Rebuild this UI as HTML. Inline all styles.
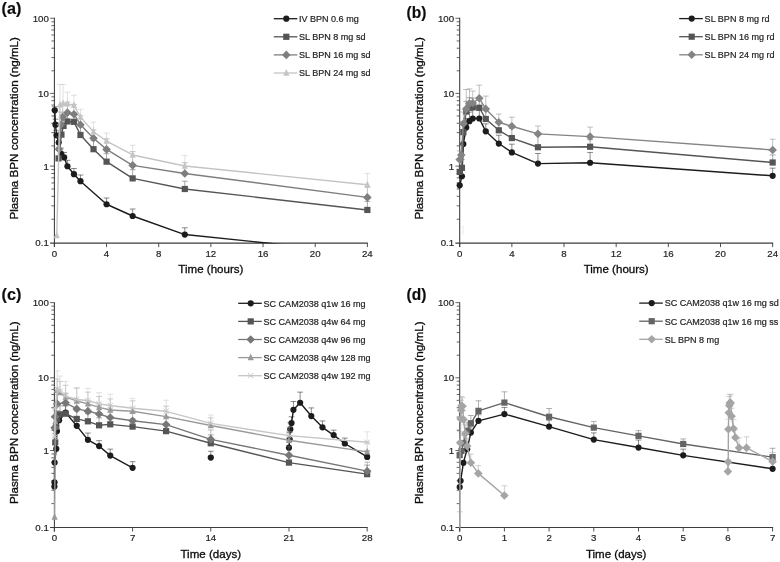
<!DOCTYPE html>
<html><head><meta charset="utf-8"><title>Plasma BPN concentration</title>
<style>
html,body{margin:0;padding:0;background:#fff}
svg{display:block;font-family:"Liberation Sans",Arial,Helvetica,sans-serif}
text{stroke:#222;stroke-width:0.2px}
text.t{stroke:#111;stroke-width:0.32px}
</style></head>
<body>
<svg width="780" height="562" viewBox="0 0 780 562">
<rect width="780" height="562" fill="#fff"/>
<g id="pa">
<text x="1.6" y="14.1" font-size="17" font-weight="bold" fill="#0c0c0c" textLength="19.8" lengthAdjust="spacingAndGlyphs">(a)</text>
<clipPath id="clippa"><rect x="48.4" y="8.25" width="326.96" height="235.15"/></clipPath>
<path d="M54.40 17.85V247.10M50.10 243.10H367.86" stroke="#3c3c3c" stroke-width="1.05" fill="none"/>
<path d="M51.40 219.22H54.40M51.40 205.84H54.40M51.40 196.34H54.40M51.40 188.98H54.40M51.40 182.96H54.40M51.40 177.87H54.40M51.40 173.47H54.40M51.40 169.58H54.40M50.10 166.10H54.40M51.40 145.86H54.40M51.40 132.64H54.40M51.40 123.27H54.40M51.40 115.99H54.40M51.40 110.05H54.40M51.40 105.03H54.40M51.40 100.67H54.40M51.40 96.83H54.40M50.10 93.40H54.40M51.40 70.81H54.40M51.40 57.59H54.40M51.40 48.22H54.40M51.40 40.94H54.40M51.40 35.00H54.40M51.40 29.98H54.40M51.40 25.62H54.40M51.40 21.78H54.40M50.10 18.25H54.40" stroke="#3c3c3c" stroke-width="0.8" fill="none"/>
<path d="M54.40 243.10V247.10M106.56 243.10V247.10M158.72 243.10V247.10M210.88 243.10V247.10M263.04 243.10V247.10M315.20 243.10V247.10M367.36 243.10V247.10" stroke="#3c3c3c" stroke-width="0.9" fill="none"/>
<text x="48.80" y="21.65" font-size="9.7" text-anchor="end" fill="#1f1f1f">100</text>
<text x="48.80" y="96.80" font-size="9.7" text-anchor="end" fill="#1f1f1f">10</text>
<text x="48.80" y="169.80" font-size="9.7" text-anchor="end" fill="#1f1f1f">1</text>
<text x="48.80" y="246.40" font-size="9.7" text-anchor="end" fill="#1f1f1f">0.1</text>
<text x="54.40" y="256.60" font-size="9.7" text-anchor="middle" fill="#1f1f1f">0</text>
<text x="106.56" y="256.60" font-size="9.7" text-anchor="middle" fill="#1f1f1f">4</text>
<text x="158.72" y="256.60" font-size="9.7" text-anchor="middle" fill="#1f1f1f">8</text>
<text x="210.88" y="256.60" font-size="9.7" text-anchor="middle" fill="#1f1f1f">12</text>
<text x="263.04" y="256.60" font-size="9.7" text-anchor="middle" fill="#1f1f1f">16</text>
<text x="315.20" y="256.60" font-size="9.7" text-anchor="middle" fill="#1f1f1f">20</text>
<text x="367.36" y="256.60" font-size="9.7" text-anchor="middle" fill="#1f1f1f">24</text>
<g clip-path="url(#clippa)">
<path d="M54.79 110.37V106.73M51.89 106.73H57.69" stroke="#1c1c1c" stroke-width="0.6" fill="none" opacity="0.85"/>
<path d="M55.48 124.70V119.19M52.58 119.19H58.38" stroke="#1c1c1c" stroke-width="0.6" fill="none" opacity="0.85"/>
<path d="M56.58 135.34V130.29M53.68 130.29H59.48" stroke="#1c1c1c" stroke-width="0.6" fill="none" opacity="0.85"/>
<path d="M58.70 142.49V137.05M55.80 137.05H61.60" stroke="#1c1c1c" stroke-width="0.6" fill="none" opacity="0.85"/>
<path d="M60.92 153.68V148.13M58.02 148.13H63.82" stroke="#1c1c1c" stroke-width="0.6" fill="none" opacity="0.85"/>
<path d="M64.18 157.43V152.45M61.28 152.45H67.08" stroke="#1c1c1c" stroke-width="0.6" fill="none" opacity="0.85"/>
<path d="M67.44 166.25V160.37M64.54 160.37H70.34" stroke="#1c1c1c" stroke-width="0.6" fill="none" opacity="0.85"/>
<path d="M73.96 174.22V168.48M71.06 168.48H76.86" stroke="#1c1c1c" stroke-width="0.6" fill="none" opacity="0.85"/>
<path d="M80.48 181.19V175.01M77.58 175.01H83.38" stroke="#1c1c1c" stroke-width="0.6" fill="none" opacity="0.85"/>
<path d="M106.56 204.24V197.98M103.66 197.98H109.46" stroke="#1c1c1c" stroke-width="0.6" fill="none" opacity="0.85"/>
<path d="M132.64 215.99V209.01M129.74 209.01H135.54" stroke="#1c1c1c" stroke-width="0.6" fill="none" opacity="0.85"/>
<path d="M184.80 234.56V227.80M181.90 227.80H187.70" stroke="#1c1c1c" stroke-width="0.6" fill="none" opacity="0.85"/>
<path d="M54.79 110.37L55.48 124.70L56.58 135.34L58.70 142.49L60.92 153.68L64.18 157.43L67.44 166.25L73.96 174.22L80.48 181.19L106.56 204.24L132.64 215.99L184.80 234.56L367.36 253.34" stroke="#1c1c1c" stroke-width="1.4" fill="none" stroke-linejoin="round"/>
<circle cx="54.79" cy="110.37" r="3.1" fill="#1c1c1c"/>
<circle cx="55.48" cy="124.70" r="3.1" fill="#1c1c1c"/>
<circle cx="56.58" cy="135.34" r="3.1" fill="#1c1c1c"/>
<circle cx="58.70" cy="142.49" r="3.1" fill="#1c1c1c"/>
<circle cx="60.92" cy="153.68" r="3.1" fill="#1c1c1c"/>
<circle cx="64.18" cy="157.43" r="3.1" fill="#1c1c1c"/>
<circle cx="67.44" cy="166.25" r="3.1" fill="#1c1c1c"/>
<circle cx="73.96" cy="174.22" r="3.1" fill="#1c1c1c"/>
<circle cx="80.48" cy="181.19" r="3.1" fill="#1c1c1c"/>
<circle cx="106.56" cy="204.24" r="3.1" fill="#1c1c1c"/>
<circle cx="132.64" cy="215.99" r="3.1" fill="#1c1c1c"/>
<circle cx="184.80" cy="234.56" r="3.1" fill="#1c1c1c"/>
<circle cx="367.36" cy="253.34" r="3.1" fill="#1c1c1c"/>
<path d="M58.57 158.38V147.26M55.67 147.26H61.47" stroke="#555555" stroke-width="0.6" fill="none" opacity="0.85"/>
<path d="M61.44 134.64V123.85M58.54 123.85H64.34" stroke="#555555" stroke-width="0.6" fill="none" opacity="0.85"/>
<path d="M63.53 125.92V115.76M60.63 115.76H66.43" stroke="#555555" stroke-width="0.6" fill="none" opacity="0.85"/>
<path d="M67.44 121.44V112.07M64.54 112.07H70.34" stroke="#555555" stroke-width="0.6" fill="none" opacity="0.85"/>
<path d="M73.96 121.83V113.26M71.06 113.26H76.86" stroke="#555555" stroke-width="0.6" fill="none" opacity="0.85"/>
<path d="M80.48 134.99V126.46M77.58 126.46H83.38" stroke="#555555" stroke-width="0.6" fill="none" opacity="0.85"/>
<path d="M93.52 149.20V140.34M90.62 140.34H96.42" stroke="#555555" stroke-width="0.6" fill="none" opacity="0.85"/>
<path d="M106.56 161.68V153.68M103.66 153.68H109.46" stroke="#555555" stroke-width="0.6" fill="none" opacity="0.85"/>
<path d="M132.64 178.39V169.65M129.74 169.65H135.54" stroke="#555555" stroke-width="0.6" fill="none" opacity="0.85"/>
<path d="M184.80 189.00V181.19M181.90 181.19H187.70" stroke="#555555" stroke-width="0.6" fill="none" opacity="0.85"/>
<path d="M367.36 209.94V201.41M364.46 201.41H370.26" stroke="#555555" stroke-width="0.6" fill="none" opacity="0.85"/>
<path d="M58.57 158.38L61.44 134.64L63.53 125.92L67.44 121.44L73.96 121.83L80.48 134.99L93.52 149.20L106.56 161.68L132.64 178.39L184.80 189.00L367.36 209.94" stroke="#555555" stroke-width="1.4" fill="none" stroke-linejoin="round"/>
<rect x="55.47" y="155.28" width="6.2" height="6.2" fill="#555555"/>
<rect x="58.34" y="131.54" width="6.2" height="6.2" fill="#555555"/>
<rect x="60.43" y="122.82" width="6.2" height="6.2" fill="#555555"/>
<rect x="64.34" y="118.34" width="6.2" height="6.2" fill="#555555"/>
<rect x="70.86" y="118.73" width="6.2" height="6.2" fill="#555555"/>
<rect x="77.38" y="131.89" width="6.2" height="6.2" fill="#555555"/>
<rect x="90.42" y="146.10" width="6.2" height="6.2" fill="#555555"/>
<rect x="103.46" y="158.58" width="6.2" height="6.2" fill="#555555"/>
<rect x="129.54" y="175.29" width="6.2" height="6.2" fill="#555555"/>
<rect x="181.70" y="185.90" width="6.2" height="6.2" fill="#555555"/>
<rect x="364.26" y="206.84" width="6.2" height="6.2" fill="#555555"/>
<path d="M58.96 149.20V137.05M56.06 137.05H61.86" stroke="#7e7e7e" stroke-width="0.6" fill="none" opacity="0.85"/>
<path d="M60.92 124.70V112.07M58.02 112.07H63.82" stroke="#7e7e7e" stroke-width="0.6" fill="none" opacity="0.85"/>
<path d="M62.75 117.09V104.81M59.85 104.81H65.65" stroke="#7e7e7e" stroke-width="0.6" fill="none" opacity="0.85"/>
<path d="M67.44 112.66V102.13M64.54 102.13H70.34" stroke="#7e7e7e" stroke-width="0.6" fill="none" opacity="0.85"/>
<path d="M73.96 114.24V104.35M71.06 104.35H76.86" stroke="#7e7e7e" stroke-width="0.6" fill="none" opacity="0.85"/>
<path d="M80.48 124.70V115.76M77.58 115.76H83.38" stroke="#7e7e7e" stroke-width="0.6" fill="none" opacity="0.85"/>
<path d="M93.52 138.32V129.78M90.62 129.78H96.42" stroke="#7e7e7e" stroke-width="0.6" fill="none" opacity="0.85"/>
<path d="M106.56 149.38V138.85M103.66 138.85H109.46" stroke="#7e7e7e" stroke-width="0.6" fill="none" opacity="0.85"/>
<path d="M132.64 165.34V151.65M129.74 151.65H135.54" stroke="#7e7e7e" stroke-width="0.6" fill="none" opacity="0.85"/>
<path d="M184.80 173.44V162.76M181.90 162.76H187.70" stroke="#7e7e7e" stroke-width="0.6" fill="none" opacity="0.85"/>
<path d="M367.36 197.41V187.02M364.46 187.02H370.26" stroke="#7e7e7e" stroke-width="0.6" fill="none" opacity="0.85"/>
<path d="M58.96 149.20L60.92 124.70L62.75 117.09L67.44 112.66L73.96 114.24L80.48 124.70L93.52 138.32L106.56 149.38L132.64 165.34L184.80 173.44L367.36 197.41" stroke="#7e7e7e" stroke-width="1.4" fill="none" stroke-linejoin="round"/>
<path d="M58.96 144.90L63.26 149.20L58.96 153.50L54.66 149.20Z" fill="#7e7e7e"/>
<path d="M60.92 120.40L65.22 124.70L60.92 129.00L56.62 124.70Z" fill="#7e7e7e"/>
<path d="M62.75 112.79L67.05 117.09L62.75 121.39L58.45 117.09Z" fill="#7e7e7e"/>
<path d="M67.44 108.36L71.74 112.66L67.44 116.96L63.14 112.66Z" fill="#7e7e7e"/>
<path d="M73.96 109.94L78.26 114.24L73.96 118.54L69.66 114.24Z" fill="#7e7e7e"/>
<path d="M80.48 120.40L84.78 124.70L80.48 129.00L76.18 124.70Z" fill="#7e7e7e"/>
<path d="M93.52 134.02L97.82 138.32L93.52 142.62L89.22 138.32Z" fill="#7e7e7e"/>
<path d="M106.56 145.08L110.86 149.38L106.56 153.68L102.26 149.38Z" fill="#7e7e7e"/>
<path d="M132.64 161.04L136.94 165.34L132.64 169.64L128.34 165.34Z" fill="#7e7e7e"/>
<path d="M184.80 169.14L189.10 173.44L184.80 177.74L180.50 173.44Z" fill="#7e7e7e"/>
<path d="M367.36 193.11L371.66 197.41L367.36 201.71L363.06 197.41Z" fill="#7e7e7e"/>
<path d="M60.01 104.81V84.41M57.11 84.41H62.91" stroke="#c4c4c4" stroke-width="0.6" fill="none" opacity="0.85"/>
<path d="M63.01 103.44V84.41M60.11 84.41H65.91" stroke="#c4c4c4" stroke-width="0.6" fill="none" opacity="0.85"/>
<path d="M67.44 103.89V92.24M64.54 92.24H70.34" stroke="#c4c4c4" stroke-width="0.6" fill="none" opacity="0.85"/>
<path d="M73.96 105.28V95.21M71.06 95.21H76.86" stroke="#c4c4c4" stroke-width="0.6" fill="none" opacity="0.85"/>
<path d="M80.48 117.09V109.29M77.58 109.29H83.38" stroke="#c4c4c4" stroke-width="0.6" fill="none" opacity="0.85"/>
<path d="M93.52 131.85V122.22M90.62 122.22H96.42" stroke="#c4c4c4" stroke-width="0.6" fill="none" opacity="0.85"/>
<path d="M106.56 141.04V133.05M103.66 133.05H109.46" stroke="#c4c4c4" stroke-width="0.6" fill="none" opacity="0.85"/>
<path d="M132.64 154.95V145.26M129.74 145.26H135.54" stroke="#c4c4c4" stroke-width="0.6" fill="none" opacity="0.85"/>
<path d="M184.80 165.95V155.61M181.90 155.61H187.70" stroke="#c4c4c4" stroke-width="0.6" fill="none" opacity="0.85"/>
<path d="M367.36 184.78V173.44M364.46 173.44H370.26" stroke="#c4c4c4" stroke-width="0.6" fill="none" opacity="0.85"/>
<path d="M56.75 235.58L60.01 104.81L63.01 103.44L67.44 103.89L73.96 105.28L80.48 117.09L93.52 131.85L106.56 141.04L132.64 154.95L184.80 165.95L367.36 184.78" stroke="#c4c4c4" stroke-width="1.4" fill="none" stroke-linejoin="round"/>
<path d="M56.75 231.58L59.85 238.28L53.65 238.28Z" fill="#c4c4c4"/>
<path d="M60.01 100.81L63.11 107.51L56.91 107.51Z" fill="#c4c4c4"/>
<path d="M63.01 99.44L66.11 106.14L59.91 106.14Z" fill="#c4c4c4"/>
<path d="M67.44 99.89L70.54 106.59L64.34 106.59Z" fill="#c4c4c4"/>
<path d="M73.96 101.28L77.06 107.98L70.86 107.98Z" fill="#c4c4c4"/>
<path d="M80.48 113.09L83.58 119.79L77.38 119.79Z" fill="#c4c4c4"/>
<path d="M93.52 127.85L96.62 134.55L90.42 134.55Z" fill="#c4c4c4"/>
<path d="M106.56 137.04L109.66 143.74L103.46 143.74Z" fill="#c4c4c4"/>
<path d="M132.64 150.95L135.74 157.65L129.54 157.65Z" fill="#c4c4c4"/>
<path d="M184.80 161.95L187.90 168.65L181.70 168.65Z" fill="#c4c4c4"/>
<path d="M367.36 180.78L370.46 187.48L364.26 187.48Z" fill="#c4c4c4"/>
</g>

<text x="210.88" y="273.20" font-size="11.55" text-anchor="middle" fill="#0a0a0a" class="t">Time (hours)</text>
<text transform="translate(17.60 128.28) rotate(-90)" font-size="11.65" text-anchor="middle" fill="#0a0a0a" class="t">Plasma BPN concentration (ng/mL)</text>
<path d="M273.80 18.70H297.40" stroke="#1c1c1c" stroke-width="1.3"/>
<circle cx="286.30" cy="18.70" r="3.1" fill="#1c1c1c"/>
<text x="298.90" y="22.00" font-size="9.05" fill="#1f1f1f">IV BPN 0.6 mg</text>
<path d="M273.80 36.80H297.40" stroke="#555555" stroke-width="1.3"/>
<rect x="283.20" y="33.70" width="6.2" height="6.2" fill="#555555"/>
<text x="298.90" y="40.10" font-size="9.05" fill="#1f1f1f">SL BPN 8 mg sd</text>
<path d="M273.80 54.90H297.40" stroke="#7e7e7e" stroke-width="1.3"/>
<path d="M286.30 50.60L290.60 54.90L286.30 59.20L282.00 54.90Z" fill="#7e7e7e"/>
<text x="298.90" y="58.20" font-size="9.05" fill="#1f1f1f">SL BPN 16 mg sd</text>
<path d="M273.80 73.00H297.40" stroke="#c4c4c4" stroke-width="1.3"/>
<path d="M286.30 69.00L289.40 75.70L283.20 75.70Z" fill="#c4c4c4"/>
<text x="298.90" y="76.30" font-size="9.05" fill="#1f1f1f">SL BPN 24 mg sd</text>
</g>
<g id="pb">
<text x="406.6" y="17.6" font-size="17" font-weight="bold" fill="#0c0c0c" textLength="19.8" lengthAdjust="spacingAndGlyphs">(b)</text>
<clipPath id="clippb"><rect x="453.7" y="8.25" width="326.96" height="235.15"/></clipPath>
<path d="M459.70 17.85V247.10M455.40 243.10H773.16" stroke="#3c3c3c" stroke-width="1.05" fill="none"/>
<path d="M456.70 219.22H459.70M456.70 205.84H459.70M456.70 196.34H459.70M456.70 188.98H459.70M456.70 182.96H459.70M456.70 177.87H459.70M456.70 173.47H459.70M456.70 169.58H459.70M455.40 166.10H459.70M456.70 145.86H459.70M456.70 132.64H459.70M456.70 123.27H459.70M456.70 115.99H459.70M456.70 110.05H459.70M456.70 105.03H459.70M456.70 100.67H459.70M456.70 96.83H459.70M455.40 93.40H459.70M456.70 70.81H459.70M456.70 57.59H459.70M456.70 48.22H459.70M456.70 40.94H459.70M456.70 35.00H459.70M456.70 29.98H459.70M456.70 25.62H459.70M456.70 21.78H459.70M455.40 18.25H459.70" stroke="#3c3c3c" stroke-width="0.8" fill="none"/>
<path d="M459.70 243.10V247.10M511.86 243.10V247.10M564.02 243.10V247.10M616.18 243.10V247.10M668.34 243.10V247.10M720.50 243.10V247.10M772.66 243.10V247.10" stroke="#3c3c3c" stroke-width="0.9" fill="none"/>
<text x="454.10" y="21.65" font-size="9.7" text-anchor="end" fill="#1f1f1f">100</text>
<text x="454.10" y="96.80" font-size="9.7" text-anchor="end" fill="#1f1f1f">10</text>
<text x="454.10" y="169.80" font-size="9.7" text-anchor="end" fill="#1f1f1f">1</text>
<text x="454.10" y="246.40" font-size="9.7" text-anchor="end" fill="#1f1f1f">0.1</text>
<text x="459.70" y="256.60" font-size="9.7" text-anchor="middle" fill="#1f1f1f">0</text>
<text x="511.86" y="256.60" font-size="9.7" text-anchor="middle" fill="#1f1f1f">4</text>
<text x="564.02" y="256.60" font-size="9.7" text-anchor="middle" fill="#1f1f1f">8</text>
<text x="616.18" y="256.60" font-size="9.7" text-anchor="middle" fill="#1f1f1f">12</text>
<text x="668.34" y="256.60" font-size="9.7" text-anchor="middle" fill="#1f1f1f">16</text>
<text x="720.50" y="256.60" font-size="9.7" text-anchor="middle" fill="#1f1f1f">20</text>
<text x="772.66" y="256.60" font-size="9.7" text-anchor="middle" fill="#1f1f1f">24</text>
<g clip-path="url(#clippb)">
<path d="M463.35 144.00V134.64M460.45 134.64H466.25" stroke="#1c1c1c" stroke-width="0.6" fill="none" opacity="0.85"/>
<path d="M466.22 127.56V118.48M463.32 118.48H469.12" stroke="#1c1c1c" stroke-width="0.6" fill="none" opacity="0.85"/>
<path d="M469.48 121.13V112.07M466.58 112.07H472.38" stroke="#1c1c1c" stroke-width="0.6" fill="none" opacity="0.85"/>
<path d="M472.74 118.48V109.83M469.84 109.83H475.64" stroke="#1c1c1c" stroke-width="0.6" fill="none" opacity="0.85"/>
<path d="M479.26 118.48V110.37M476.36 110.37H482.16" stroke="#1c1c1c" stroke-width="0.6" fill="none" opacity="0.85"/>
<path d="M485.78 131.32V123.85M482.88 123.85H488.68" stroke="#1c1c1c" stroke-width="0.6" fill="none" opacity="0.85"/>
<path d="M498.82 143.54V135.22M495.92 135.22H501.72" stroke="#1c1c1c" stroke-width="0.6" fill="none" opacity="0.85"/>
<path d="M511.86 152.45V144.16M508.96 144.16H514.76" stroke="#1c1c1c" stroke-width="0.6" fill="none" opacity="0.85"/>
<path d="M537.94 163.60V153.47M535.04 153.47H540.84" stroke="#1c1c1c" stroke-width="0.6" fill="none" opacity="0.85"/>
<path d="M590.10 162.76V152.45M587.20 152.45H593.00" stroke="#1c1c1c" stroke-width="0.6" fill="none" opacity="0.85"/>
<path d="M772.66 175.82V168.15M769.76 168.15H775.56" stroke="#1c1c1c" stroke-width="0.6" fill="none" opacity="0.85"/>
<path d="M459.70 185.32L461.92 176.24L463.35 144.00L466.22 127.56L469.48 121.13L472.74 118.48L479.26 118.48L485.78 131.32L498.82 143.54L511.86 152.45L537.94 163.60L590.10 162.76L772.66 175.82" stroke="#1c1c1c" stroke-width="1.4" fill="none" stroke-linejoin="round"/>
<circle cx="459.70" cy="185.32" r="3.1" fill="#1c1c1c"/>
<circle cx="461.92" cy="176.24" r="3.1" fill="#1c1c1c"/>
<circle cx="463.35" cy="144.00" r="3.1" fill="#1c1c1c"/>
<circle cx="466.22" cy="127.56" r="3.1" fill="#1c1c1c"/>
<circle cx="469.48" cy="121.13" r="3.1" fill="#1c1c1c"/>
<circle cx="472.74" cy="118.48" r="3.1" fill="#1c1c1c"/>
<circle cx="479.26" cy="118.48" r="3.1" fill="#1c1c1c"/>
<circle cx="485.78" cy="131.32" r="3.1" fill="#1c1c1c"/>
<circle cx="498.82" cy="143.54" r="3.1" fill="#1c1c1c"/>
<circle cx="511.86" cy="152.45" r="3.1" fill="#1c1c1c"/>
<circle cx="537.94" cy="163.60" r="3.1" fill="#1c1c1c"/>
<circle cx="590.10" cy="162.76" r="3.1" fill="#1c1c1c"/>
<circle cx="772.66" cy="175.82" r="3.1" fill="#1c1c1c"/>
<path d="M461.92 167.83V159.61M459.02 159.61H464.82" stroke="#555555" stroke-width="0.6" fill="none" opacity="0.85"/>
<path d="M463.35 132.07V121.44M460.45 121.44H466.25" stroke="#555555" stroke-width="0.6" fill="none" opacity="0.85"/>
<path d="M466.22 111.50V101.29M463.32 101.29H469.12" stroke="#555555" stroke-width="0.6" fill="none" opacity="0.85"/>
<path d="M469.48 107.73V97.73M466.58 97.73H472.38" stroke="#555555" stroke-width="0.6" fill="none" opacity="0.85"/>
<path d="M472.74 107.22V98.11M469.84 98.11H475.64" stroke="#555555" stroke-width="0.6" fill="none" opacity="0.85"/>
<path d="M479.26 107.73V99.27M476.36 99.27H482.16" stroke="#555555" stroke-width="0.6" fill="none" opacity="0.85"/>
<path d="M485.78 118.98V110.37M482.88 110.37H488.68" stroke="#555555" stroke-width="0.6" fill="none" opacity="0.85"/>
<path d="M498.82 130.29V123.03M495.92 123.03H501.72" stroke="#555555" stroke-width="0.6" fill="none" opacity="0.85"/>
<path d="M511.86 138.07V128.32M508.96 128.32H514.76" stroke="#555555" stroke-width="0.6" fill="none" opacity="0.85"/>
<path d="M537.94 147.26V135.22M535.04 135.22H540.84" stroke="#555555" stroke-width="0.6" fill="none" opacity="0.85"/>
<path d="M590.10 146.75V139.65M587.20 139.65H593.00" stroke="#555555" stroke-width="0.6" fill="none" opacity="0.85"/>
<path d="M772.66 162.49V154.95M769.76 154.95H775.56" stroke="#555555" stroke-width="0.6" fill="none" opacity="0.85"/>
<path d="M459.70 171.94L461.92 167.83L463.35 132.07L466.22 111.50L469.48 107.73L472.74 107.22L479.26 107.73L485.78 118.98L498.82 130.29L511.86 138.07L537.94 147.26L590.10 146.75L772.66 162.49" stroke="#555555" stroke-width="1.4" fill="none" stroke-linejoin="round"/>
<rect x="456.60" y="168.84" width="6.2" height="6.2" fill="#555555"/>
<rect x="458.82" y="164.73" width="6.2" height="6.2" fill="#555555"/>
<rect x="460.25" y="128.97" width="6.2" height="6.2" fill="#555555"/>
<rect x="463.12" y="108.40" width="6.2" height="6.2" fill="#555555"/>
<rect x="466.38" y="104.63" width="6.2" height="6.2" fill="#555555"/>
<rect x="469.64" y="104.12" width="6.2" height="6.2" fill="#555555"/>
<rect x="476.16" y="104.63" width="6.2" height="6.2" fill="#555555"/>
<rect x="482.68" y="115.88" width="6.2" height="6.2" fill="#555555"/>
<rect x="495.72" y="127.19" width="6.2" height="6.2" fill="#555555"/>
<rect x="508.76" y="134.97" width="6.2" height="6.2" fill="#555555"/>
<rect x="534.84" y="144.16" width="6.2" height="6.2" fill="#555555"/>
<rect x="587.00" y="143.65" width="6.2" height="6.2" fill="#555555"/>
<rect x="769.56" y="159.39" width="6.2" height="6.2" fill="#555555"/>
<path d="M459.70 159.61V150.88M456.80 150.88H462.60" stroke="#848484" stroke-width="0.6" fill="none" opacity="0.85"/>
<path d="M461.26 154.95V145.59M458.36 145.59H464.16" stroke="#848484" stroke-width="0.6" fill="none" opacity="0.85"/>
<path d="M463.35 123.68V112.07M460.45 112.07H466.25" stroke="#848484" stroke-width="0.6" fill="none" opacity="0.85"/>
<path d="M466.22 108.92V89.51M463.32 89.51H469.12" stroke="#848484" stroke-width="0.6" fill="none" opacity="0.85"/>
<path d="M469.48 103.44V88.93M466.58 88.93H472.38" stroke="#848484" stroke-width="0.6" fill="none" opacity="0.85"/>
<path d="M472.74 103.00V91.00M469.84 91.00H475.64" stroke="#848484" stroke-width="0.6" fill="none" opacity="0.85"/>
<path d="M479.26 98.30V85.16M476.36 85.16H482.16" stroke="#848484" stroke-width="0.6" fill="none" opacity="0.85"/>
<path d="M485.78 108.92V96.09M482.88 96.09H488.68" stroke="#848484" stroke-width="0.6" fill="none" opacity="0.85"/>
<path d="M498.82 122.22V114.05M495.92 114.05H501.72" stroke="#848484" stroke-width="0.6" fill="none" opacity="0.85"/>
<path d="M511.86 126.27V117.23M508.96 117.23H514.76" stroke="#848484" stroke-width="0.6" fill="none" opacity="0.85"/>
<path d="M537.94 133.83V126.01M535.04 126.01H540.84" stroke="#848484" stroke-width="0.6" fill="none" opacity="0.85"/>
<path d="M590.10 136.67V127.09M587.20 127.09H593.00" stroke="#848484" stroke-width="0.6" fill="none" opacity="0.85"/>
<path d="M772.66 149.93V139.25M769.76 139.25H775.56" stroke="#848484" stroke-width="0.6" fill="none" opacity="0.85"/>
<path d="M459.70 159.61L461.26 154.95L463.35 123.68L466.22 108.92L469.48 103.44L472.74 103.00L479.26 98.30L485.78 108.92L498.82 122.22L511.86 126.27L537.94 133.83L590.10 136.67L772.66 149.93" stroke="#848484" stroke-width="1.4" fill="none" stroke-linejoin="round"/>
<path d="M459.70 155.31L464.00 159.61L459.70 163.91L455.40 159.61Z" fill="#848484"/>
<path d="M461.26 150.65L465.56 154.95L461.26 159.25L456.96 154.95Z" fill="#848484"/>
<path d="M463.35 119.38L467.65 123.68L463.35 127.98L459.05 123.68Z" fill="#848484"/>
<path d="M466.22 104.62L470.52 108.92L466.22 113.22L461.92 108.92Z" fill="#848484"/>
<path d="M469.48 99.14L473.78 103.44L469.48 107.74L465.18 103.44Z" fill="#848484"/>
<path d="M472.74 98.70L477.04 103.00L472.74 107.30L468.44 103.00Z" fill="#848484"/>
<path d="M479.26 94.00L483.56 98.30L479.26 102.60L474.96 98.30Z" fill="#848484"/>
<path d="M485.78 104.62L490.08 108.92L485.78 113.22L481.48 108.92Z" fill="#848484"/>
<path d="M498.82 117.92L503.12 122.22L498.82 126.52L494.52 122.22Z" fill="#848484"/>
<path d="M511.86 121.97L516.16 126.27L511.86 130.57L507.56 126.27Z" fill="#848484"/>
<path d="M537.94 129.53L542.24 133.83L537.94 138.13L533.64 133.83Z" fill="#848484"/>
<path d="M590.10 132.37L594.40 136.67L590.10 140.97L585.80 136.67Z" fill="#848484"/>
<path d="M772.66 145.63L776.96 149.93L772.66 154.23L768.36 149.93Z" fill="#848484"/>
</g>
<path d="M463 225V235" stroke="#e4e4e4" stroke-width="0.8"/>
<text x="616.18" y="273.20" font-size="11.55" text-anchor="middle" fill="#0a0a0a" class="t">Time (hours)</text>
<text transform="translate(423.20 128.28) rotate(-90)" font-size="11.65" text-anchor="middle" fill="#0a0a0a" class="t">Plasma BPN concentration (ng/mL)</text>
<path d="M679.20 18.60H702.80" stroke="#1c1c1c" stroke-width="1.3"/>
<circle cx="691.70" cy="18.60" r="3.1" fill="#1c1c1c"/>
<text x="704.60" y="21.90" font-size="9.05" fill="#1f1f1f">SL BPN 8 mg rd</text>
<path d="M679.20 36.70H702.80" stroke="#555555" stroke-width="1.3"/>
<rect x="688.60" y="33.60" width="6.2" height="6.2" fill="#555555"/>
<text x="704.60" y="40.00" font-size="9.05" fill="#1f1f1f">SL BPN 16 mg rd</text>
<path d="M679.20 54.80H702.80" stroke="#848484" stroke-width="1.3"/>
<path d="M691.70 50.50L696.00 54.80L691.70 59.10L687.40 54.80Z" fill="#848484"/>
<text x="704.60" y="58.10" font-size="9.05" fill="#1f1f1f">SL BPN 24 mg rd</text>
</g>
<g id="pc">
<text x="1.6" y="300.2" font-size="17" font-weight="bold" fill="#0c0c0c" textLength="19.8" lengthAdjust="spacingAndGlyphs">(c)</text>
<clipPath id="clippc"><rect x="48.4" y="292.65" width="326.76" height="235.15000000000003"/></clipPath>
<path d="M54.40 302.25V531.50M50.10 527.50H367.66" stroke="#3c3c3c" stroke-width="1.05" fill="none"/>
<path d="M51.40 503.62H54.40M51.40 490.24H54.40M51.40 480.74H54.40M51.40 473.38H54.40M51.40 467.36H54.40M51.40 462.27H54.40M51.40 457.87H54.40M51.40 453.98H54.40M50.10 450.50H54.40M51.40 430.26H54.40M51.40 417.04H54.40M51.40 407.67H54.40M51.40 400.39H54.40M51.40 394.45H54.40M51.40 389.43H54.40M51.40 385.07H54.40M51.40 381.23H54.40M50.10 377.80H54.40M51.40 355.21H54.40M51.40 341.99H54.40M51.40 332.62H54.40M51.40 325.34H54.40M51.40 319.40H54.40M51.40 314.38H54.40M51.40 310.02H54.40M51.40 306.18H54.40M50.10 302.65H54.40" stroke="#3c3c3c" stroke-width="0.8" fill="none"/>
<path d="M54.40 527.50V531.50M132.59 527.50V531.50M210.78 527.50V531.50M288.97 527.50V531.50M367.16 527.50V531.50" stroke="#3c3c3c" stroke-width="0.9" fill="none"/>
<text x="48.80" y="306.05" font-size="9.7" text-anchor="end" fill="#1f1f1f">100</text>
<text x="48.80" y="381.20" font-size="9.7" text-anchor="end" fill="#1f1f1f">10</text>
<text x="48.80" y="454.20" font-size="9.7" text-anchor="end" fill="#1f1f1f">1</text>
<text x="48.80" y="530.80" font-size="9.7" text-anchor="end" fill="#1f1f1f">0.1</text>
<text x="54.40" y="541.00" font-size="9.7" text-anchor="middle" fill="#1f1f1f">0</text>
<text x="132.59" y="541.00" font-size="9.7" text-anchor="middle" fill="#1f1f1f">7</text>
<text x="210.78" y="541.00" font-size="9.7" text-anchor="middle" fill="#1f1f1f">14</text>
<text x="288.97" y="541.00" font-size="9.7" text-anchor="middle" fill="#1f1f1f">21</text>
<text x="367.16" y="541.00" font-size="9.7" text-anchor="middle" fill="#1f1f1f">28</text>
<g clip-path="url(#clippc)">
<path d="M59.09 420.22V413.69M56.19 413.69H61.99" stroke="#1c1c1c" stroke-width="0.6" fill="none" opacity="0.85"/>
<path d="M65.57 412.52V405.84M62.67 405.84H68.47" stroke="#1c1c1c" stroke-width="0.6" fill="none" opacity="0.85"/>
<path d="M76.74 425.87V419.62M73.84 419.62H79.64" stroke="#1c1c1c" stroke-width="0.6" fill="none" opacity="0.85"/>
<path d="M87.91 439.79V433.06M85.01 433.06H90.81" stroke="#1c1c1c" stroke-width="0.6" fill="none" opacity="0.85"/>
<path d="M99.08 446.08V440.68M96.18 440.68H101.98" stroke="#1c1c1c" stroke-width="0.6" fill="none" opacity="0.85"/>
<path d="M110.25 455.62V449.15M107.35 449.15H113.15" stroke="#1c1c1c" stroke-width="0.6" fill="none" opacity="0.85"/>
<path d="M132.59 467.80V461.70M129.69 461.70H135.49" stroke="#1c1c1c" stroke-width="0.6" fill="none" opacity="0.85"/>
<path d="M210.78 457.57V451.27M207.88 451.27H213.68" stroke="#1c1c1c" stroke-width="0.6" fill="none" opacity="0.85"/>
<path d="M289.64 439.35V432.53M286.74 432.53H292.54" stroke="#1c1c1c" stroke-width="0.6" fill="none" opacity="0.85"/>
<path d="M290.31 429.18V422.72M287.41 422.72H293.21" stroke="#1c1c1c" stroke-width="0.6" fill="none" opacity="0.85"/>
<path d="M291.54 422.99V416.79M288.64 416.79H294.44" stroke="#1c1c1c" stroke-width="0.6" fill="none" opacity="0.85"/>
<path d="M293.44 409.79V401.49M290.54 401.49H296.34" stroke="#1c1c1c" stroke-width="0.6" fill="none" opacity="0.85"/>
<path d="M300.14 402.74V392.13M297.24 392.13H303.04" stroke="#1c1c1c" stroke-width="0.6" fill="none" opacity="0.85"/>
<path d="M311.31 416.04V407.92M308.41 407.92H314.21" stroke="#1c1c1c" stroke-width="0.6" fill="none" opacity="0.85"/>
<path d="M322.48 427.33V420.95M319.58 420.95H325.38" stroke="#1c1c1c" stroke-width="0.6" fill="none" opacity="0.85"/>
<path d="M333.65 435.09V430.15M330.75 430.15H336.55" stroke="#1c1c1c" stroke-width="0.6" fill="none" opacity="0.85"/>
<path d="M344.82 443.51V438.08M341.92 438.08H347.72" stroke="#1c1c1c" stroke-width="0.6" fill="none" opacity="0.85"/>
<path d="M367.16 456.90V450.96M364.26 450.96H370.06" stroke="#1c1c1c" stroke-width="0.6" fill="none" opacity="0.85"/>
<path d="M54.40 486.54L54.51 482.38L54.62 462.57L56.30 448.86L56.86 431.15L59.09 420.22L65.57 412.52L76.74 425.87L87.91 439.79L99.08 446.08L110.25 455.62L132.59 467.80" stroke="#1c1c1c" stroke-width="1.4" fill="none" stroke-linejoin="round"/>
<path d="M288.97 447.72L289.64 439.35L290.31 429.18L291.54 422.99L293.44 409.79L300.14 402.74L311.31 416.04L322.48 427.33L333.65 435.09L344.82 443.51L367.16 456.90" stroke="#1c1c1c" stroke-width="1.4" fill="none" stroke-linejoin="round"/>
<circle cx="54.40" cy="486.54" r="3.1" fill="#1c1c1c"/>
<circle cx="54.51" cy="482.38" r="3.1" fill="#1c1c1c"/>
<circle cx="54.62" cy="462.57" r="3.1" fill="#1c1c1c"/>
<circle cx="56.30" cy="448.86" r="3.1" fill="#1c1c1c"/>
<circle cx="56.86" cy="431.15" r="3.1" fill="#1c1c1c"/>
<circle cx="59.09" cy="420.22" r="3.1" fill="#1c1c1c"/>
<circle cx="65.57" cy="412.52" r="3.1" fill="#1c1c1c"/>
<circle cx="76.74" cy="425.87" r="3.1" fill="#1c1c1c"/>
<circle cx="87.91" cy="439.79" r="3.1" fill="#1c1c1c"/>
<circle cx="99.08" cy="446.08" r="3.1" fill="#1c1c1c"/>
<circle cx="110.25" cy="455.62" r="3.1" fill="#1c1c1c"/>
<circle cx="132.59" cy="467.80" r="3.1" fill="#1c1c1c"/>
<circle cx="210.78" cy="457.57" r="3.1" fill="#1c1c1c"/>
<circle cx="288.97" cy="447.72" r="3.1" fill="#1c1c1c"/>
<circle cx="289.64" cy="439.35" r="3.1" fill="#1c1c1c"/>
<circle cx="290.31" cy="429.18" r="3.1" fill="#1c1c1c"/>
<circle cx="291.54" cy="422.99" r="3.1" fill="#1c1c1c"/>
<circle cx="293.44" cy="409.79" r="3.1" fill="#1c1c1c"/>
<circle cx="300.14" cy="402.74" r="3.1" fill="#1c1c1c"/>
<circle cx="311.31" cy="416.04" r="3.1" fill="#1c1c1c"/>
<circle cx="322.48" cy="427.33" r="3.1" fill="#1c1c1c"/>
<circle cx="333.65" cy="435.09" r="3.1" fill="#1c1c1c"/>
<circle cx="344.82" cy="443.51" r="3.1" fill="#1c1c1c"/>
<circle cx="367.16" cy="456.90" r="3.1" fill="#1c1c1c"/>
<path d="M55.24 442.30V433.42M52.34 433.42H58.14" stroke="#555555" stroke-width="0.6" fill="none" opacity="0.85"/>
<path d="M57.19 419.04V410.86M54.29 410.86H60.09" stroke="#555555" stroke-width="0.6" fill="none" opacity="0.85"/>
<path d="M59.98 414.39V405.84M57.09 405.84H62.88" stroke="#555555" stroke-width="0.6" fill="none" opacity="0.85"/>
<path d="M65.57 413.69V405.07M62.67 405.07H68.47" stroke="#555555" stroke-width="0.6" fill="none" opacity="0.85"/>
<path d="M76.74 418.92V410.86M73.84 410.86H79.64" stroke="#555555" stroke-width="0.6" fill="none" opacity="0.85"/>
<path d="M87.91 421.32V413.69M85.01 413.69H90.81" stroke="#555555" stroke-width="0.6" fill="none" opacity="0.85"/>
<path d="M99.08 425.30V417.89M96.18 417.89H101.98" stroke="#555555" stroke-width="0.6" fill="none" opacity="0.85"/>
<path d="M110.25 424.33V416.79M107.35 416.79H113.15" stroke="#555555" stroke-width="0.6" fill="none" opacity="0.85"/>
<path d="M132.59 426.59V419.04M129.69 419.04H135.49" stroke="#555555" stroke-width="0.6" fill="none" opacity="0.85"/>
<path d="M166.10 431.15V424.05M163.20 424.05H169.00" stroke="#555555" stroke-width="0.6" fill="none" opacity="0.85"/>
<path d="M210.78 443.27V434.90M207.88 434.90H213.68" stroke="#555555" stroke-width="0.6" fill="none" opacity="0.85"/>
<path d="M288.97 462.57V454.22M286.07 454.22H291.87" stroke="#555555" stroke-width="0.6" fill="none" opacity="0.85"/>
<path d="M367.16 474.15V465.10M364.26 465.10H370.06" stroke="#555555" stroke-width="0.6" fill="none" opacity="0.85"/>
<path d="M55.24 442.30L56.27 426.89L57.19 419.04L59.98 414.39L65.57 413.69L76.74 418.92L87.91 421.32L99.08 425.30L110.25 424.33L132.59 426.59L166.10 431.15L210.78 443.27L288.97 462.57L367.16 474.15" stroke="#555555" stroke-width="1.4" fill="none" stroke-linejoin="round"/>
<rect x="52.14" y="439.20" width="6.2" height="6.2" fill="#555555"/>
<rect x="53.17" y="423.79" width="6.2" height="6.2" fill="#555555"/>
<rect x="54.09" y="415.94" width="6.2" height="6.2" fill="#555555"/>
<rect x="56.88" y="411.29" width="6.2" height="6.2" fill="#555555"/>
<rect x="62.47" y="410.59" width="6.2" height="6.2" fill="#555555"/>
<rect x="73.64" y="415.82" width="6.2" height="6.2" fill="#555555"/>
<rect x="84.81" y="418.22" width="6.2" height="6.2" fill="#555555"/>
<rect x="95.98" y="422.20" width="6.2" height="6.2" fill="#555555"/>
<rect x="107.15" y="421.23" width="6.2" height="6.2" fill="#555555"/>
<rect x="129.49" y="423.49" width="6.2" height="6.2" fill="#555555"/>
<rect x="163.00" y="428.05" width="6.2" height="6.2" fill="#555555"/>
<rect x="207.68" y="440.17" width="6.2" height="6.2" fill="#555555"/>
<rect x="285.87" y="459.47" width="6.2" height="6.2" fill="#555555"/>
<rect x="364.06" y="471.05" width="6.2" height="6.2" fill="#555555"/>
<path d="M55.07 416.79V408.25M52.17 408.25H57.97" stroke="#777777" stroke-width="0.6" fill="none" opacity="0.85"/>
<path d="M57.19 403.88V394.23M54.29 394.23H60.09" stroke="#777777" stroke-width="0.6" fill="none" opacity="0.85"/>
<path d="M65.57 402.74V393.16M62.67 393.16H68.47" stroke="#777777" stroke-width="0.6" fill="none" opacity="0.85"/>
<path d="M76.74 408.92V400.16M73.84 400.16H79.64" stroke="#777777" stroke-width="0.6" fill="none" opacity="0.85"/>
<path d="M87.91 411.13V402.18M85.01 402.18H90.81" stroke="#777777" stroke-width="0.6" fill="none" opacity="0.85"/>
<path d="M99.08 413.98V405.84M96.18 405.84H101.98" stroke="#777777" stroke-width="0.6" fill="none" opacity="0.85"/>
<path d="M110.25 417.56V409.10M107.35 409.10H113.15" stroke="#777777" stroke-width="0.6" fill="none" opacity="0.85"/>
<path d="M132.59 420.71V412.72M129.69 412.72H135.49" stroke="#777777" stroke-width="0.6" fill="none" opacity="0.85"/>
<path d="M166.10 424.60V416.79M163.20 416.79H169.00" stroke="#777777" stroke-width="0.6" fill="none" opacity="0.85"/>
<path d="M210.78 439.35V429.99M207.88 429.99H213.68" stroke="#777777" stroke-width="0.6" fill="none" opacity="0.85"/>
<path d="M288.97 455.26V446.62M286.07 446.62H291.87" stroke="#777777" stroke-width="0.6" fill="none" opacity="0.85"/>
<path d="M367.16 471.13V462.09M364.26 462.09H370.06" stroke="#777777" stroke-width="0.6" fill="none" opacity="0.85"/>
<path d="M54.62 427.63L55.07 416.79L57.19 403.88L65.57 402.74L76.74 408.92L87.91 411.13L99.08 413.98L110.25 417.56L132.59 420.71L166.10 424.60L210.78 439.35L288.97 455.26L367.16 471.13" stroke="#777777" stroke-width="1.4" fill="none" stroke-linejoin="round"/>
<path d="M54.62 423.33L58.92 427.63L54.62 431.93L50.32 427.63Z" fill="#777777"/>
<path d="M55.07 412.49L59.37 416.79L55.07 421.09L50.77 416.79Z" fill="#777777"/>
<path d="M57.19 399.58L61.49 403.88L57.19 408.18L52.89 403.88Z" fill="#777777"/>
<path d="M65.57 398.44L69.87 402.74L65.57 407.04L61.27 402.74Z" fill="#777777"/>
<path d="M76.74 404.62L81.04 408.92L76.74 413.22L72.44 408.92Z" fill="#777777"/>
<path d="M87.91 406.83L92.21 411.13L87.91 415.43L83.61 411.13Z" fill="#777777"/>
<path d="M99.08 409.68L103.38 413.98L99.08 418.28L94.78 413.98Z" fill="#777777"/>
<path d="M110.25 413.26L114.55 417.56L110.25 421.86L105.95 417.56Z" fill="#777777"/>
<path d="M132.59 416.41L136.89 420.71L132.59 425.01L128.29 420.71Z" fill="#777777"/>
<path d="M166.10 420.30L170.40 424.60L166.10 428.90L161.80 424.60Z" fill="#777777"/>
<path d="M210.78 435.05L215.08 439.35L210.78 443.65L206.48 439.35Z" fill="#777777"/>
<path d="M288.97 450.96L293.27 455.26L288.97 459.56L284.67 455.26Z" fill="#777777"/>
<path d="M367.16 466.83L371.46 471.13L367.16 475.43L362.86 471.13Z" fill="#777777"/>
<path d="M57.19 390.39V378.93M54.29 378.93H60.09" stroke="#9a9a9a" stroke-width="0.6" fill="none" opacity="0.85"/>
<path d="M59.98 392.64V381.39M57.09 381.39H62.88" stroke="#9a9a9a" stroke-width="0.6" fill="none" opacity="0.85"/>
<path d="M65.57 397.06V385.27M62.67 385.27H68.47" stroke="#9a9a9a" stroke-width="0.6" fill="none" opacity="0.85"/>
<path d="M76.74 400.95V387.84M73.84 387.84H79.64" stroke="#9a9a9a" stroke-width="0.6" fill="none" opacity="0.85"/>
<path d="M87.91 403.88V392.13M85.01 392.13H90.81" stroke="#9a9a9a" stroke-width="0.6" fill="none" opacity="0.85"/>
<path d="M99.08 407.43V396.47M96.18 396.47H101.98" stroke="#9a9a9a" stroke-width="0.6" fill="none" opacity="0.85"/>
<path d="M110.25 409.96V398.89M107.35 398.89H113.15" stroke="#9a9a9a" stroke-width="0.6" fill="none" opacity="0.85"/>
<path d="M132.59 411.22V400.82M129.69 400.82H135.49" stroke="#9a9a9a" stroke-width="0.6" fill="none" opacity="0.85"/>
<path d="M166.10 416.57V406.23M163.20 406.23H169.00" stroke="#9a9a9a" stroke-width="0.6" fill="none" opacity="0.85"/>
<path d="M210.78 425.44V417.89M207.88 417.89H213.68" stroke="#9a9a9a" stroke-width="0.6" fill="none" opacity="0.85"/>
<path d="M288.97 440.23V431.66M286.07 431.66H291.87" stroke="#9a9a9a" stroke-width="0.6" fill="none" opacity="0.85"/>
<path d="M367.16 451.91V442.78M364.26 442.78H370.06" stroke="#9a9a9a" stroke-width="0.6" fill="none" opacity="0.85"/>
<path d="M54.62 517.02L55.33 421.45L57.19 390.39L59.98 392.64L65.57 397.06L76.74 400.95L87.91 403.88L99.08 407.43L110.25 409.96L132.59 411.22L166.10 416.57L210.78 425.44L288.97 440.23L367.16 451.91" stroke="#9a9a9a" stroke-width="1.4" fill="none" stroke-linejoin="round"/>
<path d="M54.62 513.02L57.72 519.72L51.52 519.72Z" fill="#9a9a9a"/>
<path d="M55.33 417.45L58.43 424.15L52.23 424.15Z" fill="#9a9a9a"/>
<path d="M57.19 386.39L60.29 393.09L54.09 393.09Z" fill="#9a9a9a"/>
<path d="M59.98 388.64L63.09 395.34L56.88 395.34Z" fill="#9a9a9a"/>
<path d="M65.57 393.06L68.67 399.76L62.47 399.76Z" fill="#9a9a9a"/>
<path d="M76.74 396.95L79.84 403.65L73.64 403.65Z" fill="#9a9a9a"/>
<path d="M87.91 399.88L91.01 406.58L84.81 406.58Z" fill="#9a9a9a"/>
<path d="M99.08 403.43L102.18 410.13L95.98 410.13Z" fill="#9a9a9a"/>
<path d="M110.25 405.96L113.35 412.66L107.15 412.66Z" fill="#9a9a9a"/>
<path d="M132.59 407.22L135.69 413.92L129.49 413.92Z" fill="#9a9a9a"/>
<path d="M166.10 412.57L169.20 419.27L163.00 419.27Z" fill="#9a9a9a"/>
<path d="M210.78 421.44L213.88 428.14L207.68 428.14Z" fill="#9a9a9a"/>
<path d="M288.97 436.23L292.07 442.93L285.87 442.93Z" fill="#9a9a9a"/>
<path d="M367.16 447.91L370.26 454.61L364.06 454.61Z" fill="#9a9a9a"/>
<path d="M57.19 389.21V370.86M54.29 370.86H60.09" stroke="#c6c6c6" stroke-width="0.6" fill="none" opacity="0.85"/>
<path d="M59.98 391.13V376.01M57.09 376.01H62.88" stroke="#c6c6c6" stroke-width="0.6" fill="none" opacity="0.85"/>
<path d="M65.57 396.13V381.39M62.67 381.39H68.47" stroke="#c6c6c6" stroke-width="0.6" fill="none" opacity="0.85"/>
<path d="M76.74 399.52V388.29M73.84 388.29H79.64" stroke="#c6c6c6" stroke-width="0.6" fill="none" opacity="0.85"/>
<path d="M87.91 400.49V388.52M85.01 388.52H90.81" stroke="#c6c6c6" stroke-width="0.6" fill="none" opacity="0.85"/>
<path d="M99.08 403.88V392.64M96.18 392.64H101.98" stroke="#c6c6c6" stroke-width="0.6" fill="none" opacity="0.85"/>
<path d="M110.25 405.53V394.23M107.35 394.23H113.15" stroke="#c6c6c6" stroke-width="0.6" fill="none" opacity="0.85"/>
<path d="M132.59 408.25V398.27M129.69 398.27H135.49" stroke="#c6c6c6" stroke-width="0.6" fill="none" opacity="0.85"/>
<path d="M166.10 411.31V400.16M163.20 400.16H169.00" stroke="#c6c6c6" stroke-width="0.6" fill="none" opacity="0.85"/>
<path d="M210.78 423.38V415.00M207.88 415.00H213.68" stroke="#c6c6c6" stroke-width="0.6" fill="none" opacity="0.85"/>
<path d="M288.97 435.66V426.89M286.07 426.89H291.87" stroke="#c6c6c6" stroke-width="0.6" fill="none" opacity="0.85"/>
<path d="M367.16 442.30V431.83M364.26 431.83H370.06" stroke="#c6c6c6" stroke-width="0.6" fill="none" opacity="0.85"/>
<path d="M54.62 437.25L55.33 408.25L57.19 389.21L59.98 391.13L65.57 396.13L76.74 399.52L87.91 400.49L99.08 403.88L110.25 405.53L132.59 408.25L166.10 411.31L210.78 423.38L288.97 435.66L367.16 442.30" stroke="#c6c6c6" stroke-width="1.4" fill="none" stroke-linejoin="round"/>
<path d="M51.97 434.60L57.27 439.90M51.97 439.90L57.27 434.60M51.97 437.25H57.27" stroke="#c6c6c6" stroke-width="1.0" fill="none"/>
<path d="M52.68 405.60L57.98 410.90M52.68 410.90L57.98 405.60M52.68 408.25H57.98" stroke="#c6c6c6" stroke-width="1.0" fill="none"/>
<path d="M54.54 386.56L59.84 391.86M54.54 391.86L59.84 386.56M54.54 389.21H59.84" stroke="#c6c6c6" stroke-width="1.0" fill="none"/>
<path d="M57.34 388.48L62.63 393.78M57.34 393.78L62.63 388.48M57.34 391.13H62.63" stroke="#c6c6c6" stroke-width="1.0" fill="none"/>
<path d="M62.92 393.48L68.22 398.78M62.92 398.78L68.22 393.48M62.92 396.13H68.22" stroke="#c6c6c6" stroke-width="1.0" fill="none"/>
<path d="M74.09 396.87L79.39 402.17M74.09 402.17L79.39 396.87M74.09 399.52H79.39" stroke="#c6c6c6" stroke-width="1.0" fill="none"/>
<path d="M85.26 397.84L90.56 403.14M85.26 403.14L90.56 397.84M85.26 400.49H90.56" stroke="#c6c6c6" stroke-width="1.0" fill="none"/>
<path d="M96.43 401.23L101.73 406.53M96.43 406.53L101.73 401.23M96.43 403.88H101.73" stroke="#c6c6c6" stroke-width="1.0" fill="none"/>
<path d="M107.60 402.88L112.90 408.18M107.60 408.18L112.90 402.88M107.60 405.53H112.90" stroke="#c6c6c6" stroke-width="1.0" fill="none"/>
<path d="M129.94 405.60L135.24 410.90M129.94 410.90L135.24 405.60M129.94 408.25H135.24" stroke="#c6c6c6" stroke-width="1.0" fill="none"/>
<path d="M163.45 408.66L168.75 413.96M163.45 413.96L168.75 408.66M163.45 411.31H168.75" stroke="#c6c6c6" stroke-width="1.0" fill="none"/>
<path d="M208.13 420.73L213.43 426.03M208.13 426.03L213.43 420.73M208.13 423.38H213.43" stroke="#c6c6c6" stroke-width="1.0" fill="none"/>
<path d="M286.32 433.01L291.62 438.31M286.32 438.31L291.62 433.01M286.32 435.66H291.62" stroke="#c6c6c6" stroke-width="1.0" fill="none"/>
<path d="M364.51 439.65L369.81 444.95M364.51 444.95L369.81 439.65M364.51 442.30H369.81" stroke="#c6c6c6" stroke-width="1.0" fill="none"/>
</g>

<text x="210.78" y="557.60" font-size="11.55" text-anchor="middle" fill="#0a0a0a" class="t">Time (days)</text>
<text transform="translate(17.60 412.68) rotate(-90)" font-size="11.65" text-anchor="middle" fill="#0a0a0a" class="t">Plasma BPN concentration (ng/mL)</text>
<path d="M238.20 303.30H261.80" stroke="#1c1c1c" stroke-width="1.3"/>
<circle cx="250.70" cy="303.30" r="3.1" fill="#1c1c1c"/>
<text x="263.50" y="306.60" font-size="9.05" fill="#1f1f1f">SC CAM2038 q1w 16 mg</text>
<path d="M238.20 321.40H261.80" stroke="#555555" stroke-width="1.3"/>
<rect x="247.60" y="318.30" width="6.2" height="6.2" fill="#555555"/>
<text x="263.50" y="324.70" font-size="9.05" fill="#1f1f1f">SC CAM2038 q4w 64 mg</text>
<path d="M238.20 339.50H261.80" stroke="#777777" stroke-width="1.3"/>
<path d="M250.70 335.20L255.00 339.50L250.70 343.80L246.40 339.50Z" fill="#777777"/>
<text x="263.50" y="342.80" font-size="9.05" fill="#1f1f1f">SC CAM2038 q4w 96 mg</text>
<path d="M238.20 357.60H261.80" stroke="#9a9a9a" stroke-width="1.3"/>
<path d="M250.70 353.60L253.80 360.30L247.60 360.30Z" fill="#9a9a9a"/>
<text x="263.50" y="360.90" font-size="9.05" fill="#1f1f1f">SC CAM2038 q4w 128 mg</text>
<path d="M238.20 375.70H261.80" stroke="#c6c6c6" stroke-width="1.3"/>
<path d="M248.05 373.05L253.35 378.35M248.05 378.35L253.35 373.05M248.05 375.70H253.35" stroke="#c6c6c6" stroke-width="1.0" fill="none"/>
<text x="263.50" y="379.00" font-size="9.05" fill="#1f1f1f">SC CAM2038 q4w 192 mg</text>
</g>
<g id="pd">
<text x="406.6" y="300.1" font-size="17" font-weight="bold" fill="#0c0c0c" textLength="19.8" lengthAdjust="spacingAndGlyphs">(d)</text>
<clipPath id="clippd"><rect x="453.7" y="292.65" width="326.90000000000003" height="235.15000000000003"/></clipPath>
<path d="M459.70 302.25V531.50M455.40 527.50H773.10" stroke="#3c3c3c" stroke-width="1.05" fill="none"/>
<path d="M456.70 503.62H459.70M456.70 490.24H459.70M456.70 480.74H459.70M456.70 473.38H459.70M456.70 467.36H459.70M456.70 462.27H459.70M456.70 457.87H459.70M456.70 453.98H459.70M455.40 450.50H459.70M456.70 430.26H459.70M456.70 417.04H459.70M456.70 407.67H459.70M456.70 400.39H459.70M456.70 394.45H459.70M456.70 389.43H459.70M456.70 385.07H459.70M456.70 381.23H459.70M455.40 377.80H459.70M456.70 355.21H459.70M456.70 341.99H459.70M456.70 332.62H459.70M456.70 325.34H459.70M456.70 319.40H459.70M456.70 314.38H459.70M456.70 310.02H459.70M456.70 306.18H459.70M455.40 302.65H459.70" stroke="#3c3c3c" stroke-width="0.8" fill="none"/>
<path d="M459.70 527.50V531.50M504.40 527.50V531.50M549.10 527.50V531.50M593.80 527.50V531.50M638.50 527.50V531.50M683.20 527.50V531.50M727.90 527.50V531.50M772.60 527.50V531.50" stroke="#3c3c3c" stroke-width="0.9" fill="none"/>
<text x="454.10" y="306.05" font-size="9.7" text-anchor="end" fill="#1f1f1f">100</text>
<text x="454.10" y="381.20" font-size="9.7" text-anchor="end" fill="#1f1f1f">10</text>
<text x="454.10" y="454.20" font-size="9.7" text-anchor="end" fill="#1f1f1f">1</text>
<text x="454.10" y="530.80" font-size="9.7" text-anchor="end" fill="#1f1f1f">0.1</text>
<text x="459.70" y="541.00" font-size="9.7" text-anchor="middle" fill="#1f1f1f">0</text>
<text x="504.40" y="541.00" font-size="9.7" text-anchor="middle" fill="#1f1f1f">1</text>
<text x="549.10" y="541.00" font-size="9.7" text-anchor="middle" fill="#1f1f1f">2</text>
<text x="593.80" y="541.00" font-size="9.7" text-anchor="middle" fill="#1f1f1f">3</text>
<text x="638.50" y="541.00" font-size="9.7" text-anchor="middle" fill="#1f1f1f">4</text>
<text x="683.20" y="541.00" font-size="9.7" text-anchor="middle" fill="#1f1f1f">5</text>
<text x="727.90" y="541.00" font-size="9.7" text-anchor="middle" fill="#1f1f1f">6</text>
<text x="772.60" y="541.00" font-size="9.7" text-anchor="middle" fill="#1f1f1f">7</text>
<g clip-path="url(#clippd)">
<path d="M470.88 432.53V426.89M467.98 426.89H473.77" stroke="#1c1c1c" stroke-width="0.6" fill="none" opacity="0.85"/>
<path d="M478.47 420.83V414.69M475.57 414.69H481.37" stroke="#1c1c1c" stroke-width="0.6" fill="none" opacity="0.85"/>
<path d="M504.40 414.08V407.43M501.50 407.43H507.30" stroke="#1c1c1c" stroke-width="0.6" fill="none" opacity="0.85"/>
<path d="M549.10 426.59V420.22M546.20 420.22H552.00" stroke="#1c1c1c" stroke-width="0.6" fill="none" opacity="0.85"/>
<path d="M593.80 439.57V432.88M590.90 432.88H596.70" stroke="#1c1c1c" stroke-width="0.6" fill="none" opacity="0.85"/>
<path d="M638.50 447.55V440.01M635.60 440.01H641.40" stroke="#1c1c1c" stroke-width="0.6" fill="none" opacity="0.85"/>
<path d="M683.20 455.37V449.15M680.30 449.15H686.10" stroke="#1c1c1c" stroke-width="0.6" fill="none" opacity="0.85"/>
<path d="M772.60 468.80V462.35M769.70 462.35H775.50" stroke="#1c1c1c" stroke-width="0.6" fill="none" opacity="0.85"/>
<path d="M459.70 487.00L460.59 480.79L463.41 462.79L467.16 449.15L470.88 432.53L478.47 420.83L504.40 414.08L549.10 426.59L593.80 439.57L638.50 447.55L683.20 455.37L772.60 468.80" stroke="#1c1c1c" stroke-width="1.4" fill="none" stroke-linejoin="round"/>
<circle cx="459.70" cy="487.00" r="3.1" fill="#1c1c1c"/>
<circle cx="460.59" cy="480.79" r="3.1" fill="#1c1c1c"/>
<circle cx="463.41" cy="462.79" r="3.1" fill="#1c1c1c"/>
<circle cx="467.16" cy="449.15" r="3.1" fill="#1c1c1c"/>
<circle cx="470.88" cy="432.53" r="3.1" fill="#1c1c1c"/>
<circle cx="478.47" cy="420.83" r="3.1" fill="#1c1c1c"/>
<circle cx="504.40" cy="414.08" r="3.1" fill="#1c1c1c"/>
<circle cx="549.10" cy="426.59" r="3.1" fill="#1c1c1c"/>
<circle cx="593.80" cy="439.57" r="3.1" fill="#1c1c1c"/>
<circle cx="638.50" cy="447.55" r="3.1" fill="#1c1c1c"/>
<circle cx="683.20" cy="455.37" r="3.1" fill="#1c1c1c"/>
<circle cx="772.60" cy="468.80" r="3.1" fill="#1c1c1c"/>
<path d="M463.41 443.27V435.28M460.51 435.28H466.31" stroke="#646464" stroke-width="0.6" fill="none" opacity="0.85"/>
<path d="M467.16 430.81V422.72M464.26 422.72H470.06" stroke="#646464" stroke-width="0.6" fill="none" opacity="0.85"/>
<path d="M470.88 423.25V415.51M467.98 415.51H473.77" stroke="#646464" stroke-width="0.6" fill="none" opacity="0.85"/>
<path d="M478.47 410.86V400.82M475.57 400.82H481.37" stroke="#646464" stroke-width="0.6" fill="none" opacity="0.85"/>
<path d="M504.40 402.59V391.82M501.50 391.82H507.30" stroke="#646464" stroke-width="0.6" fill="none" opacity="0.85"/>
<path d="M549.10 416.79V408.50M546.20 408.50H552.00" stroke="#646464" stroke-width="0.6" fill="none" opacity="0.85"/>
<path d="M593.80 427.63V421.45M590.90 421.45H596.70" stroke="#646464" stroke-width="0.6" fill="none" opacity="0.85"/>
<path d="M638.50 435.86V430.65M635.60 430.65H641.40" stroke="#646464" stroke-width="0.6" fill="none" opacity="0.85"/>
<path d="M683.20 444.01V438.92M680.30 438.92H686.10" stroke="#646464" stroke-width="0.6" fill="none" opacity="0.85"/>
<path d="M772.60 457.16V448.28M769.70 448.28H775.50" stroke="#646464" stroke-width="0.6" fill="none" opacity="0.85"/>
<path d="M459.70 455.05L461.49 450.96L463.41 443.27L467.16 430.81L470.88 423.25L478.47 410.86L504.40 402.59L549.10 416.79L593.80 427.63L638.50 435.86L683.20 444.01L772.60 457.16" stroke="#646464" stroke-width="1.4" fill="none" stroke-linejoin="round"/>
<rect x="456.60" y="451.95" width="6.2" height="6.2" fill="#646464"/>
<rect x="458.39" y="447.86" width="6.2" height="6.2" fill="#646464"/>
<rect x="460.31" y="440.17" width="6.2" height="6.2" fill="#646464"/>
<rect x="464.06" y="427.71" width="6.2" height="6.2" fill="#646464"/>
<rect x="467.77" y="420.15" width="6.2" height="6.2" fill="#646464"/>
<rect x="475.37" y="407.76" width="6.2" height="6.2" fill="#646464"/>
<rect x="501.30" y="399.49" width="6.2" height="6.2" fill="#646464"/>
<rect x="546.00" y="413.69" width="6.2" height="6.2" fill="#646464"/>
<rect x="590.70" y="424.53" width="6.2" height="6.2" fill="#646464"/>
<rect x="635.40" y="432.76" width="6.2" height="6.2" fill="#646464"/>
<rect x="680.10" y="440.91" width="6.2" height="6.2" fill="#646464"/>
<rect x="769.50" y="454.06" width="6.2" height="6.2" fill="#646464"/>
<path d="M459.70 550.06V511.80M456.80 511.80H462.60" stroke="#a5a5a5" stroke-width="0.6" fill="none" opacity="0.85"/>
<path d="M460.17 442.78V431.66M457.27 431.66H463.07" stroke="#a5a5a5" stroke-width="0.6" fill="none" opacity="0.85"/>
<path d="M460.63 419.04V408.25M457.73 408.25H463.53" stroke="#a5a5a5" stroke-width="0.6" fill="none" opacity="0.85"/>
<path d="M461.10 410.32V400.16M458.20 400.16H464.00" stroke="#a5a5a5" stroke-width="0.6" fill="none" opacity="0.85"/>
<path d="M461.56 405.84V396.47M458.66 396.47H464.46" stroke="#a5a5a5" stroke-width="0.6" fill="none" opacity="0.85"/>
<path d="M462.49 406.23V397.66M459.59 397.66H465.39" stroke="#a5a5a5" stroke-width="0.6" fill="none" opacity="0.85"/>
<path d="M463.43 419.39V410.86M460.53 410.86H466.32" stroke="#a5a5a5" stroke-width="0.6" fill="none" opacity="0.85"/>
<path d="M465.29 433.60V424.74M462.39 424.74H468.19" stroke="#a5a5a5" stroke-width="0.6" fill="none" opacity="0.85"/>
<path d="M467.15 446.08V438.08M464.25 438.08H470.05" stroke="#a5a5a5" stroke-width="0.6" fill="none" opacity="0.85"/>
<path d="M470.88 462.79V454.05M467.98 454.05H473.77" stroke="#a5a5a5" stroke-width="0.6" fill="none" opacity="0.85"/>
<path d="M478.32 473.40V465.59M475.43 465.59H481.22" stroke="#a5a5a5" stroke-width="0.6" fill="none" opacity="0.85"/>
<path d="M504.40 495.53V485.81M501.50 485.81H507.30" stroke="#a5a5a5" stroke-width="0.6" fill="none" opacity="0.85"/>
<path d="M727.90 471.42V461.91M725.00 461.91H730.80" stroke="#a5a5a5" stroke-width="0.6" fill="none" opacity="0.85"/>
<path d="M728.42 429.18V419.04M725.52 419.04H731.32" stroke="#a5a5a5" stroke-width="0.6" fill="none" opacity="0.85"/>
<path d="M728.83 412.72V402.88M725.93 402.88H731.73" stroke="#a5a5a5" stroke-width="0.6" fill="none" opacity="0.85"/>
<path d="M729.30 405.53V396.47M726.40 396.47H732.20" stroke="#a5a5a5" stroke-width="0.6" fill="none" opacity="0.85"/>
<path d="M729.76 402.88V394.23M726.86 394.23H732.66" stroke="#a5a5a5" stroke-width="0.6" fill="none" opacity="0.85"/>
<path d="M730.69 402.88V394.77M727.79 394.77H733.59" stroke="#a5a5a5" stroke-width="0.6" fill="none" opacity="0.85"/>
<path d="M731.62 416.25V408.25M728.73 408.25H734.52" stroke="#a5a5a5" stroke-width="0.6" fill="none" opacity="0.85"/>
<path d="M733.49 428.56V419.62M730.59 419.62H736.39" stroke="#a5a5a5" stroke-width="0.6" fill="none" opacity="0.85"/>
<path d="M735.35 437.46V429.99M732.45 429.99H738.25" stroke="#a5a5a5" stroke-width="0.6" fill="none" opacity="0.85"/>
<path d="M739.08 447.86V437.87M736.18 437.87H741.98" stroke="#a5a5a5" stroke-width="0.6" fill="none" opacity="0.85"/>
<path d="M746.53 447.86V436.85M743.63 436.85H749.43" stroke="#a5a5a5" stroke-width="0.6" fill="none" opacity="0.85"/>
<path d="M772.60 461.61V452.55M769.70 452.55H775.50" stroke="#a5a5a5" stroke-width="0.6" fill="none" opacity="0.85"/>
<path d="M459.70 550.06L460.17 442.78L460.63 419.04L461.10 410.32L461.56 405.84L462.49 406.23L463.43 419.39L465.29 433.60L467.15 446.08L470.88 462.79L478.32 473.40L504.40 495.53" stroke="#a5a5a5" stroke-width="1.4" fill="none" stroke-linejoin="round"/>
<path d="M727.90 471.42L728.22 461.91L728.42 429.18L728.83 412.72L729.30 405.53L729.76 402.88L730.69 402.88L731.62 416.25L733.49 428.56L735.35 437.46L739.08 447.86L746.53 447.86L772.60 461.61" stroke="#a5a5a5" stroke-width="1.4" fill="none" stroke-linejoin="round"/>
<path d="M459.70 545.76L464.00 550.06L459.70 554.36L455.40 550.06Z" fill="#a5a5a5"/>
<path d="M460.17 438.48L464.47 442.78L460.17 447.08L455.87 442.78Z" fill="#a5a5a5"/>
<path d="M460.63 414.74L464.93 419.04L460.63 423.34L456.33 419.04Z" fill="#a5a5a5"/>
<path d="M461.10 406.02L465.40 410.32L461.10 414.62L456.80 410.32Z" fill="#a5a5a5"/>
<path d="M461.56 401.54L465.86 405.84L461.56 410.14L457.26 405.84Z" fill="#a5a5a5"/>
<path d="M462.49 401.93L466.79 406.23L462.49 410.53L458.19 406.23Z" fill="#a5a5a5"/>
<path d="M463.43 415.09L467.73 419.39L463.43 423.69L459.12 419.39Z" fill="#a5a5a5"/>
<path d="M465.29 429.30L469.59 433.60L465.29 437.90L460.99 433.60Z" fill="#a5a5a5"/>
<path d="M467.15 441.78L471.45 446.08L467.15 450.38L462.85 446.08Z" fill="#a5a5a5"/>
<path d="M470.88 458.49L475.18 462.79L470.88 467.09L466.57 462.79Z" fill="#a5a5a5"/>
<path d="M478.32 469.10L482.62 473.40L478.32 477.70L474.02 473.40Z" fill="#a5a5a5"/>
<path d="M504.40 491.23L508.70 495.53L504.40 499.83L500.10 495.53Z" fill="#a5a5a5"/>
<path d="M727.90 467.12L732.20 471.42L727.90 475.72L723.60 471.42Z" fill="#a5a5a5"/>
<path d="M728.22 457.61L732.52 461.91L728.22 466.21L723.92 461.91Z" fill="#a5a5a5"/>
<path d="M728.42 424.88L732.72 429.18L728.42 433.48L724.12 429.18Z" fill="#a5a5a5"/>
<path d="M728.83 408.42L733.13 412.72L728.83 417.02L724.53 412.72Z" fill="#a5a5a5"/>
<path d="M729.30 401.23L733.60 405.53L729.30 409.83L725.00 405.53Z" fill="#a5a5a5"/>
<path d="M729.76 398.58L734.06 402.88L729.76 407.18L725.46 402.88Z" fill="#a5a5a5"/>
<path d="M730.69 398.58L734.99 402.88L730.69 407.18L726.39 402.88Z" fill="#a5a5a5"/>
<path d="M731.62 411.95L735.92 416.25L731.62 420.55L727.33 416.25Z" fill="#a5a5a5"/>
<path d="M733.49 424.26L737.79 428.56L733.49 432.86L729.19 428.56Z" fill="#a5a5a5"/>
<path d="M735.35 433.16L739.65 437.46L735.35 441.76L731.05 437.46Z" fill="#a5a5a5"/>
<path d="M739.08 443.56L743.38 447.86L739.08 452.16L734.78 447.86Z" fill="#a5a5a5"/>
<path d="M746.53 443.56L750.83 447.86L746.53 452.16L742.23 447.86Z" fill="#a5a5a5"/>
<path d="M772.60 457.31L776.90 461.61L772.60 465.91L768.30 461.61Z" fill="#a5a5a5"/>
</g>

<text x="616.15" y="557.60" font-size="11.55" text-anchor="middle" fill="#0a0a0a" class="t">Time (days)</text>
<text transform="translate(423.20 412.68) rotate(-90)" font-size="11.65" text-anchor="middle" fill="#0a0a0a" class="t">Plasma BPN concentration (ng/mL)</text>
<path d="M639.20 303.10H662.80" stroke="#1c1c1c" stroke-width="1.3"/>
<circle cx="651.70" cy="303.10" r="3.1" fill="#1c1c1c"/>
<text x="664.70" y="306.40" font-size="9.05" fill="#1f1f1f">SC CAM2038 q1w 16 mg sd</text>
<path d="M639.20 321.20H662.80" stroke="#646464" stroke-width="1.3"/>
<rect x="648.60" y="318.10" width="6.2" height="6.2" fill="#646464"/>
<text x="664.70" y="324.50" font-size="9.05" fill="#1f1f1f">SC CAM2038 q1w 16 mg ss</text>
<path d="M639.20 339.30H662.80" stroke="#a5a5a5" stroke-width="1.3"/>
<path d="M651.70 335.00L656.00 339.30L651.70 343.60L647.40 339.30Z" fill="#a5a5a5"/>
<text x="664.70" y="342.60" font-size="9.05" fill="#1f1f1f">SL BPN 8 mg</text>
</g>
</svg>
</body></html>
